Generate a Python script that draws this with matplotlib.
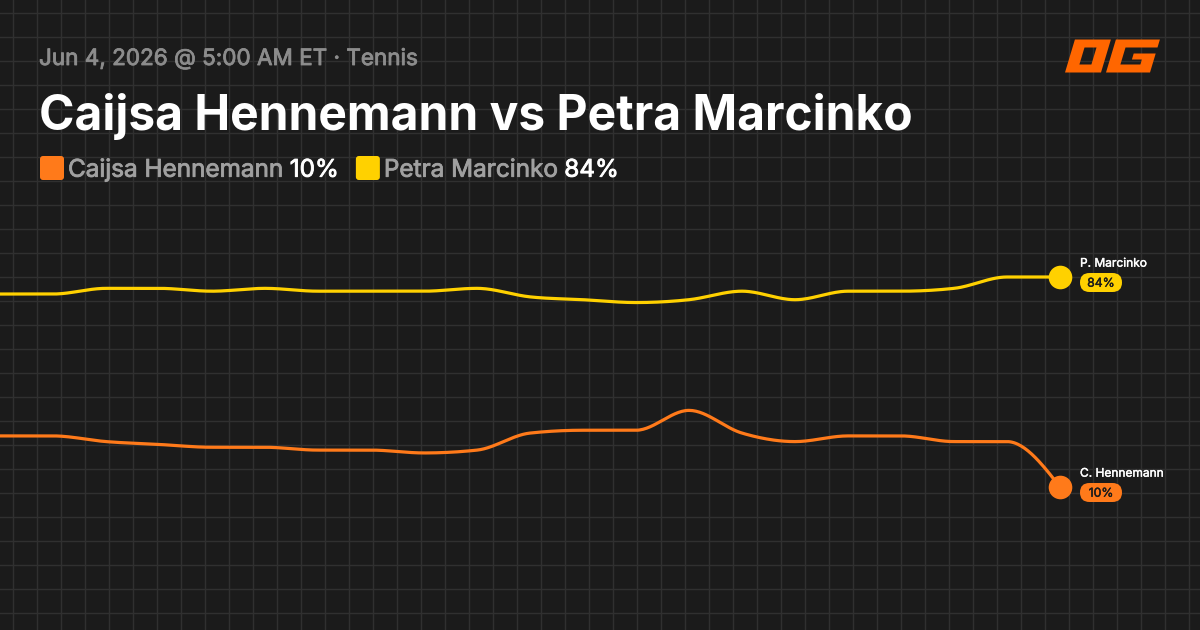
import numpy as np
import matplotlib.pyplot as plt
import matplotlib.patheffects as pe
from matplotlib.patches import FancyBboxPatch, Polygon, PathPatch
from matplotlib.path import Path

# data
steps = list(range(21))
hennemann = [28, 28, 26, 25, 24, 24, 23, 23, 22, 23, 29, 30, 30, 37, 29, 26, 28, 28, 26, 26, 10]
marcinko = [78, 78, 80, 80, 79, 80, 79, 79, 79, 80, 77, 76, 75, 76, 79, 76, 79, 79, 80, 84, 84]
names = ['Caijsa Hennemann', 'Petra Marcinko']
short_names = ['C. Hennemann', 'P. Marcinko']
series = [hennemann, marcinko]
colors = ['#FF7A1A', '#FFD100']
subtitle = 'Jun 4, 2026 @ 5:00 AM ET \u00b7 Tennis'
title = 'Caijsa Hennemann vs Petra Marcinko'

W, H = 1200, 630
BG = '#1b1b1b'
GRID = '#303030'
FONT = 'Inter'


def heavier(color, lw=0.6):
    # fake a medium weight with a thin outline in the same colour
    return [pe.withStroke(linewidth=lw, foreground=color)]


def monotone(x, y, n=30):
    # monotone cubic (same idea as d3 curveMonotoneX)
    x = np.asarray(x, float)
    y = np.asarray(y, float)
    h = np.diff(x)
    s = np.diff(y) / h
    t = np.zeros_like(y)
    for i in range(1, len(y) - 1):
        p = (s[i-1]*h[i] + s[i]*h[i-1]) / (h[i-1] + h[i])
        sg = (1 if s[i-1] >= 0 else -1) + (1 if s[i] >= 0 else -1)
        t[i] = sg * min(abs(s[i-1]), abs(s[i]), 0.5*abs(p))
    t[0] = (3*s[0] - t[1]) / 2
    t[-1] = (3*s[-1] - t[-2]) / 2
    xs, ys = [], []
    u = np.linspace(0, 1, n, endpoint=False)
    h00 = 2*u**3 - 3*u**2 + 1
    h10 = u**3 - 2*u**2 + u
    h01 = -2*u**3 + 3*u**2
    h11 = u**3 - u**2
    for i in range(len(h)):
        xs.append(x[i] + u*h[i])
        ys.append(h00*y[i] + h10*h[i]*t[i] + h01*y[i+1] + h11*h[i]*t[i+1])
    xs.append([x[-1]])
    ys.append([y[-1]])
    return np.concatenate(xs), np.concatenate(ys)


fig = plt.figure(figsize=(12, 6.3), dpi=100, facecolor=BG)

# background grid, pixel coords (y down)
bg = fig.add_axes([0, 0, 1, 1])
bg.set_xlim(0, W)
bg.set_ylim(H, 0)
bg.set_facecolor(BG)
for gx in np.arange(12.5, W, 24):
    bg.axvline(gx, color=GRID, lw=1, zorder=0)
for gy in np.arange(12.5, H, 24):
    bg.axhline(gy, color=GRID, lw=1, zorder=0)
bg.axis('off')

# data axes
ax = fig.add_axes([0, 0, 1, 1])
ax.patch.set_alpha(0)
ax.set_xlim(0, steps[-1] * W / 1060)
k = 210 / 74.0
lo = 10 - 143 / k
ax.set_ylim(lo, lo + H / k)
ax.axis('off')

for vals, c in zip(series, colors):
    xs, ys = monotone(steps, vals)
    ax.plot(xs, ys, color=c, lw=2.3, solid_capstyle='round', zorder=3)
    ax.plot(steps[-1], vals[-1], 'o', ms=17, color=c, mec='none', zorder=4)

# end labels
fig.canvas.draw()
for vals, c, sn in zip(series, colors, short_names):
    px, py = ax.transData.transform((steps[-1], vals[-1]))
    py = H - py
    bg.text(px + 20, py - 10.3, sn, color='white', fontsize=8.6, family=FONT,
            va='baseline', ha='left', zorder=5, path_effects=heavier('white', 0.3))
    bg.add_patch(FancyBboxPatch((px + 20, py - 4), 42, 19,
                                boxstyle='round,pad=0,rounding_size=9.5',
                                fc=c, ec='none', zorder=5))
    bg.text(px + 41, py + 9.7, f'{vals[-1]}%', color='#1b1b1b', fontsize=8.8,
            family=FONT, va='baseline', ha='center', zorder=6,
            path_effects=heavier('#1b1b1b', 0.3))

# header
bg.text(39, 65, subtitle, color='#8c8c8c', fontsize=16.2, family=FONT,
        va='baseline', ha='left', path_effects=heavier('#8c8c8c'))
bg.text(39, 130, title, color='white', fontsize=34.5, family=FONT,
        weight='bold', va='baseline', ha='left')

# legend row
r = fig.canvas.get_renderer()
x = 40
for nm, vals, c in zip(names, series, colors):
    bg.add_patch(FancyBboxPatch((x + 3, 159), 18, 18, boxstyle='round,pad=3',
                                fc=c, ec='none'))
    t1 = bg.text(x + 28, 176.7, nm, color='#a0a0a0', fontsize=17.5, family=FONT,
                 va='baseline', ha='left', path_effects=heavier('#a0a0a0'))
    w1 = t1.get_window_extent(r).width
    t2 = bg.text(x + 28 + w1 + 6, 176.7, f'{vals[-1]}%', color='white', fontsize=17.5,
                 family=FONT, va='baseline', ha='left', path_effects=heavier('white'))
    w2 = t2.get_window_extent(r).width
    x = x + 28 + w1 + 6 + w2 + 17

# logo: slanted block letters, local coords (u right, v up), px
slant = 0.3
o_outer = [(0, 0), (36, 0), (36, 33), (0, 33)]
o_hole = [(12, 8), (12, 25), (24, 25), (24, 8)]
g_shape = [(0, 0), (44, 0), (44, 19), (22, 19), (22, 13), (32, 13), (32, 8),
           (12, 8), (12, 25), (44, 25), (44, 33), (0, 33)]


def logo_pts(pts, x0):
    return [(1065 + x0 + u + slant * v, 72.5 - v) for u, v in pts]


verts = logo_pts(o_outer, 0) + [logo_pts(o_outer, 0)[0]] + logo_pts(o_hole, 0) + [logo_pts(o_hole, 0)[0]]
codes = ([Path.MOVETO] + [Path.LINETO] * 3 + [Path.CLOSEPOLY]) * 2
bg.add_patch(PathPatch(Path(verts, codes), fc='#FF6600', ec='none', zorder=5))
bg.add_patch(Polygon(logo_pts(g_shape, 41), closed=True, fc='#FF6600', ec='none', zorder=5))

plt.savefig('out.png', dpi=100, facecolor=BG)
